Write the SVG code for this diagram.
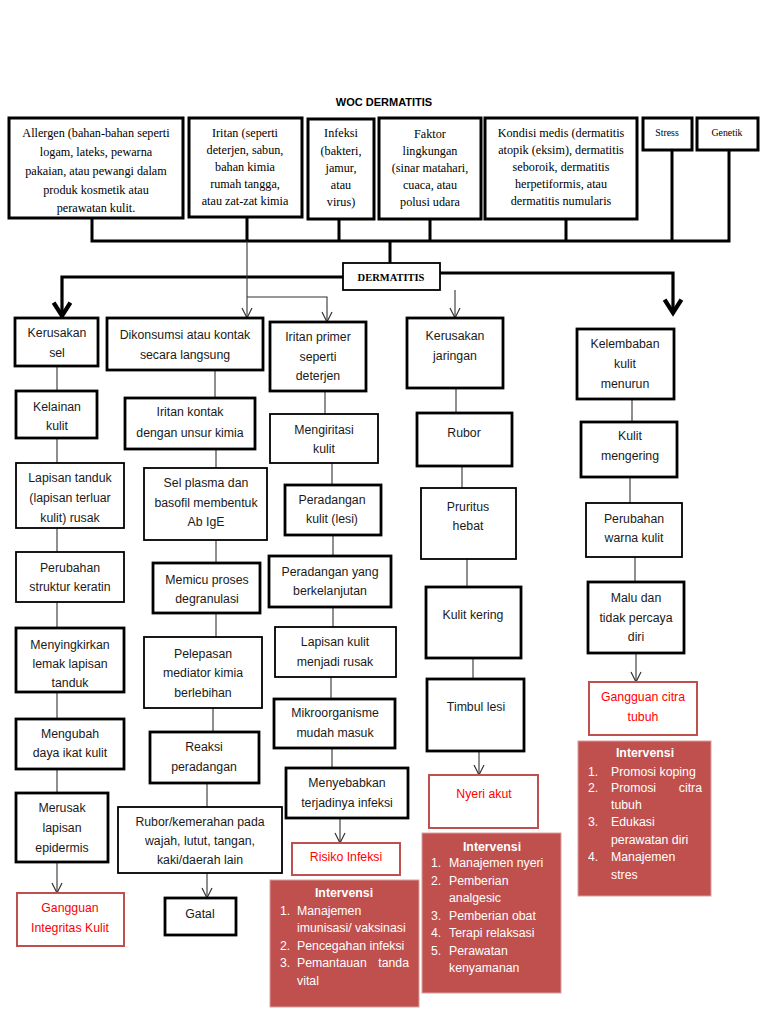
<svg xmlns="http://www.w3.org/2000/svg" width="768" height="1024" viewBox="0 0 768 1024">
<style>
.bg{fill:#fff}
.tb{fill:#fff;stroke:#000;stroke-width:3}
.bk{fill:#fff;stroke:#000;stroke-width:2.8}
.bm{fill:#fff;stroke:#000;stroke-width:1.8}
.rb{fill:#fff;stroke:#c0504d;stroke-width:2}
.iv{fill:#c0504d;stroke:#d9a09e;stroke-width:1}
.ser{font-family:"Liberation Serif","Times New Roman",serif;font-size:12.2px;fill:#000;text-anchor:middle}
.sm{font-size:9.8px}
.t{font-family:"Liberation Sans",Arial,sans-serif;font-size:12.3px;fill:#1a1a1a;text-anchor:middle}
.r{fill:#ff0000}
.w{font-family:"Liberation Sans",Arial,sans-serif;font-size:12.3px;fill:#fff}
.wb{font-weight:bold;text-anchor:middle}
.title{font-family:"Liberation Sans",Arial,sans-serif;font-size:11px;font-weight:bold;text-anchor:middle;fill:#000}
.dt{font-family:"Liberation Serif","Times New Roman",serif;font-size:10.5px;font-weight:bold;text-anchor:middle;fill:#000}
.bus{fill:none;stroke:#000;stroke-width:3}
.thin{fill:none;stroke:#333;stroke-width:1.1}
.thick{fill:none;stroke:#000;stroke-width:3.2}
</style>
<defs>
<marker id="A" markerUnits="userSpaceOnUse" markerWidth="24" markerHeight="24" viewBox="-14 -10 16 20" refX="0" refY="0" orient="auto">
<path d="M-12,-7 L-1,0 L-12,7" fill="none" stroke="#000" stroke-width="3.6" stroke-linejoin="miter"/>
</marker>
<marker id="v" markerUnits="userSpaceOnUse" markerWidth="14" markerHeight="14" viewBox="-12 -7 14 14" refX="0" refY="0" orient="auto">
<path d="M-10,-5 L0,0 L-10,5" fill="none" stroke="#333" stroke-width="1.2"/>
</marker>
</defs>
<rect class="bg" x="0" y="0" width="768" height="1024"/>

<text class="title" x="384" y="106">WOC DERMATITIS</text>

<g id="connectors">
<path class="bus" d="M92,218 V241 H729 V150"/>
<path class="bus" d="M247,217 V241 M339,219 V241 M430,219 V241 M566,219 V241 M672,150 V241 M390,241 V263"/>
<path class="thick" d="M343,277 H62 V317" marker-end="url(#A)"/>
<path class="thick" d="M440,273 H673 V314" marker-end="url(#A)"/>
<path class="thin" d="M247,241 V318" marker-end="url(#v)"/>
<path class="thin" d="M247,297 H327 V322" marker-end="url(#v)"/>
<path class="thin" d="M455,290 V318" marker-end="url(#v)"/>
<path class="thin" d="M57,366 V391 M57,438 V463 M57,528 V552 M57,602 V628 M57,692 V719 M57,769 V793 M57,862 V893" marker-end="url(#v)"/>
<path class="thin" d="M215,370 V398 M216,449 V468 M216,540 V563 M216,613 V637 M213,708 V732 M207,783 V807 M207,873 V898" marker-end="url(#v)"/>
<path class="thin" d="M325,391 V414 M332,463 V485 M333,535 V556 M333,607 V627 M331,677 V699 M332,748 V768 M340,818 V843" marker-end="url(#v)"/>
<path class="thin" d="M456,388 V413 M462,466 V488 M467,559 V587 M473,658 V679 M479,751 V775" marker-end="url(#v)"/>
<path class="thin" d="M632,399 V422 M630,477 V503 M635,557 V582 M636,653 V682" marker-end="url(#v)"/>
</g>

<g id="allergen"><rect class="tb" x="9" y="118" width="174" height="100"/>
<text class="ser" x="96" y="137">Allergen (bahan-bahan seperti</text>
<text class="ser" x="96" y="156">logam, lateks, pewarna</text>
<text class="ser" x="96" y="175">pakaian, atau pewangi dalam</text>
<text class="ser" x="96" y="194">produk kosmetik atau</text>
<text class="ser" x="96" y="212">perawatan kulit.</text></g>
<g id="iritan"><rect class="tb" x="189" y="118" width="113" height="99"/>
<text class="ser" x="245" y="137">Iritan (seperti</text>
<text class="ser" x="245" y="154">deterjen, sabun,</text>
<text class="ser" x="245" y="171">bahan kimia</text>
<text class="ser" x="245" y="188">rumah tangga,</text>
<text class="ser" x="245" y="205">atau zat-zat kimia</text></g>
<g id="infeksi"><rect class="tb" x="308" y="119" width="66" height="100"/>
<text class="ser" x="341" y="137">Infeksi</text>
<text class="ser" x="341" y="155">(bakteri,</text>
<text class="ser" x="341" y="172">jamur,</text>
<text class="ser" x="341" y="189">atau</text>
<text class="ser" x="341" y="206">virus)</text></g>
<g id="faktor"><rect class="tb" x="379" y="118" width="102" height="101"/>
<text class="ser" x="430" y="138">Faktor</text>
<text class="ser" x="430" y="155">lingkungan</text>
<text class="ser" x="430" y="172">(sinar matahari,</text>
<text class="ser" x="430" y="189">cuaca, atau</text>
<text class="ser" x="430" y="206">polusi udara</text></g>
<g id="kondisi"><rect class="tb" x="485" y="118" width="152" height="101"/>
<text class="ser" x="561" y="137">Kondisi medis (dermatitis</text>
<text class="ser" x="561" y="154">atopik (eksim), dermatitis</text>
<text class="ser" x="561" y="171">seboroik, dermatitis</text>
<text class="ser" x="561" y="188">herpetiformis, atau</text>
<text class="ser" x="561" y="205">dermatitis numularis</text></g>
<g id="stress"><rect class="tb" x="643" y="118" width="49" height="32"/>
<text class="ser sm" x="667" y="136">Stress</text></g>
<g id="genetik"><rect class="tb" x="697" y="118" width="61" height="32"/>
<text class="ser sm" x="727" y="136">Genetik</text></g>

<g id="dermatitis"><rect class="bm" x="343" y="263" width="97" height="27" stroke-width="2.4"/>
<text class="dt" x="391" y="281">DERMATITIS</text></g>

<g id="kerusakan-sel"><rect class="bk" x="15" y="318" width="83" height="48"/>
<text class="t" x="57" y="337">Kerusakan</text><text class="t" x="57" y="357">sel</text></g>
<g id="kelainan-kulit"><rect class="bk" x="16" y="391" width="81" height="47"/>
<text class="t" x="57" y="411">Kelainan</text><text class="t" x="57" y="430">kulit</text></g>
<g id="lapisan-tanduk"><rect class="bm" x="16" y="463" width="108" height="65"/>
<text class="t" x="70" y="482">Lapisan tanduk</text><text class="t" x="70" y="502">(lapisan terluar</text><text class="t" x="70" y="522">kulit) rusak</text></g>
<g id="perubahan-keratin"><rect class="bm" x="16" y="552" width="108" height="50"/>
<text class="t" x="70" y="572">Perubahan</text><text class="t" x="70" y="591">struktur keratin</text></g>
<g id="menyingkirkan"><rect class="bk" x="16" y="628" width="108" height="64"/>
<text class="t" x="70" y="649">Menyingkirkan</text><text class="t" x="70" y="668">lemak lapisan</text><text class="t" x="70" y="687">tanduk</text></g>
<g id="mengubah"><rect class="bk" x="16" y="719" width="108" height="50"/>
<text class="t" x="70" y="738">Mengubah</text><text class="t" x="70" y="757">daya ikat kulit</text></g>
<g id="merusak"><rect class="bk" x="16" y="793" width="92" height="69"/>
<text class="t" x="62" y="812">Merusak</text><text class="t" x="62" y="832">lapisan</text><text class="t" x="62" y="852">epidermis</text></g>
<g id="gangguan-integritas"><rect class="rb" x="17" y="893" width="107" height="53"/>
<text class="t r" x="70" y="912">Gangguan</text><text class="t r" x="70" y="932">Integritas Kulit</text></g>

<g id="dikonsumsi"><rect class="bk" x="107" y="318" width="156" height="52" stroke-width="2.4"/>
<text class="t" x="185" y="339">Dikonsumsi atau kontak</text><text class="t" x="185" y="359">secara langsung</text></g>
<g id="iritan-kontak"><rect class="bk" x="125" y="398" width="130" height="51" stroke-width="2.4"/>
<text class="t" x="190" y="416">Iritan kontak</text><text class="t" x="190" y="437">dengan unsur kimia</text></g>
<g id="sel-plasma"><rect class="bm" x="144" y="468" width="123" height="72"/>
<text class="t" x="206" y="487">Sel plasma dan</text><text class="t" x="206" y="507">basofil membentuk</text><text class="t" x="206" y="526">Ab IgE</text></g>
<g id="memicu"><rect class="bk" x="153" y="563" width="107" height="50"/>
<text class="t" x="207" y="584">Memicu proses</text><text class="t" x="207" y="603">degranulasi</text></g>
<g id="pelepasan"><rect class="bm" x="144" y="637" width="118" height="71"/>
<text class="t" x="203" y="658">Pelepasan</text><text class="t" x="203" y="677">mediator kimia</text><text class="t" x="203" y="697">berlebihan</text></g>
<g id="reaksi"><rect class="bk" x="150" y="732" width="109" height="51"/>
<text class="t" x="204" y="751">Reaksi</text><text class="t" x="204" y="771">peradangan</text></g>
<g id="rubor-kemerahan"><rect class="bm" x="118" y="807" width="164" height="66" stroke-width="2.2"/>
<text class="t" x="200" y="826">Rubor/kemerahan pada</text><text class="t" x="200" y="845">wajah, lutut, tangan,</text><text class="t" x="200" y="864">kaki/daerah lain</text></g>
<g id="gatal"><rect class="bk" x="165" y="898" width="71" height="37" stroke-width="2.4"/>
<text class="t" x="200" y="918">Gatal</text></g>

<g id="iritan-primer"><rect class="bk" x="270" y="322" width="96" height="69"/>
<text class="t" x="318" y="341">Iritan primer</text><text class="t" x="318" y="361">seperti</text><text class="t" x="318" y="380">deterjen</text></g>
<g id="mengiritasi"><rect class="bm" x="270" y="414" width="108" height="49" stroke-width="2.2"/>
<text class="t" x="324" y="434">Mengiritasi</text><text class="t" x="324" y="453">kulit</text></g>
<g id="peradangan-kulit"><rect class="bk" x="285" y="485" width="96" height="50"/>
<text class="t" x="332" y="504">Peradangan</text><text class="t" x="332" y="523">kulit (lesi)</text></g>
<g id="peradangan-lanjut"><rect class="bk" x="269" y="556" width="122" height="51"/>
<text class="t" x="330" y="576">Peradangan yang</text><text class="t" x="330" y="595">berkelanjutan</text></g>
<g id="lapisan-kulit"><rect class="bm" x="275" y="627" width="121" height="50" stroke-width="2.2"/>
<text class="t" x="335" y="646">Lapisan kulit</text><text class="t" x="335" y="666">menjadi rusak</text></g>
<g id="mikroorganisme"><rect class="bk" x="274" y="699" width="121" height="49"/>
<text class="t" x="335" y="717">Mikroorganisme</text><text class="t" x="335" y="737">mudah masuk</text></g>
<g id="menyebabkan"><rect class="bk" x="286" y="768" width="122" height="50"/>
<text class="t" x="347" y="787">Menyebabkan</text><text class="t" x="347" y="807">terjadinya infeksi</text></g>
<g id="risiko-infeksi"><rect class="rb" x="292" y="843" width="108" height="32"/>
<text class="t r" x="346" y="861">Risiko Infeksi</text></g>
<g id="intervensi-infeksi"><rect class="iv" x="270" y="880" width="149" height="127"/>
<text class="w wb" x="344" y="897">Intervensi</text>
<text class="w" x="280" y="915">1.</text><text class="w" x="297" y="915">Manajemen</text>
<text class="w" x="297" y="932">imunisasi/ vaksinasi</text>
<text class="w" x="280" y="950">2.</text><text class="w" x="297" y="950">Pencegahan infeksi</text>
<text class="w" x="280" y="967">3.</text><text class="w" x="297" y="967">Pemantauan</text><text class="w" x="409" y="967" text-anchor="end">tanda</text>
<text class="w" x="297" y="985">vital</text></g>

<g id="kerusakan-jaringan"><rect class="bk" x="407" y="318" width="96" height="70"/>
<text class="t" x="455" y="340">Kerusakan</text><text class="t" x="455" y="360">jaringan</text></g>
<g id="rubor"><rect class="bk" x="417" y="413" width="95" height="53"/>
<text class="t" x="464" y="437">Rubor</text></g>
<g id="pruritus"><rect class="bm" x="421" y="488" width="95" height="71" stroke-width="2.2"/>
<text class="t" x="468" y="511">Pruritus</text><text class="t" x="468" y="530">hebat</text></g>
<g id="kulit-kering"><rect class="bk" x="426" y="587" width="95" height="71" stroke-width="2.4"/>
<text class="t" x="473" y="619">Kulit kering</text></g>
<g id="timbul-lesi"><rect class="bk" x="427" y="679" width="97" height="72" stroke-width="2.4"/>
<text class="t" x="476" y="711">Timbul lesi</text></g>
<g id="nyeri-akut"><rect class="rb" x="429" y="775" width="109" height="53"/>
<text class="t r" x="484" y="798">Nyeri akut</text></g>
<g id="intervensi-nyeri"><rect class="iv" x="422" y="833" width="139" height="160"/>
<text class="w wb" x="492" y="851">Intervensi</text>
<text class="w" x="431" y="867">1.</text><text class="w" x="449" y="867">Manajemen nyeri</text>
<text class="w" x="431" y="885">2.</text><text class="w" x="449" y="885">Pemberian</text>
<text class="w" x="449" y="902">analgesic</text>
<text class="w" x="431" y="920">3.</text><text class="w" x="449" y="920">Pemberian obat</text>
<text class="w" x="431" y="937">4.</text><text class="w" x="449" y="937">Terapi relaksasi</text>
<text class="w" x="431" y="955">5.</text><text class="w" x="449" y="955">Perawatan</text>
<text class="w" x="449" y="972">kenyamanan</text></g>

<g id="kelembaban"><rect class="bk" x="577" y="329" width="97" height="70"/>
<text class="t" x="625" y="348">Kelembaban</text><text class="t" x="625" y="368">kulit</text><text class="t" x="625" y="388">menurun</text></g>
<g id="kulit-mengering"><rect class="bk" x="581" y="422" width="96" height="55"/>
<text class="t" x="630" y="440">Kulit</text><text class="t" x="630" y="460">mengering</text></g>
<g id="perubahan-warna"><rect class="bm" x="586" y="503" width="96" height="54" stroke-width="2.2"/>
<text class="t" x="634" y="523">Perubahan</text><text class="t" x="634" y="542">warna kulit</text></g>
<g id="malu"><rect class="bk" x="588" y="582" width="96" height="71" stroke-width="2.4"/>
<text class="t" x="636" y="602">Malu dan</text><text class="t" x="636" y="622">tidak percaya</text><text class="t" x="636" y="641">diri</text></g>
<g id="gangguan-citra"><rect class="rb" x="589" y="682" width="108" height="53"/>
<text class="t r" x="643" y="701">Gangguan citra</text><text class="t r" x="643" y="721">tubuh</text></g>
<g id="intervensi-citra"><rect class="iv" x="578" y="741" width="133" height="155"/>
<text class="w wb" x="645" y="757">Intervensi</text>
<text class="w" x="588" y="776">1.</text><text class="w" x="611" y="776">Promosi koping</text>
<text class="w" x="588" y="792">2.</text><text class="w" x="611" y="792">Promosi</text><text class="w" x="702" y="792" text-anchor="end">citra</text>
<text class="w" x="611" y="809">tubuh</text>
<text class="w" x="588" y="826">3.</text><text class="w" x="611" y="826">Edukasi</text>
<text class="w" x="611" y="844">perawatan diri</text>
<text class="w" x="588" y="861">4.</text><text class="w" x="611" y="861">Manajemen</text>
<text class="w" x="611" y="879">stres</text></g>
</svg>
